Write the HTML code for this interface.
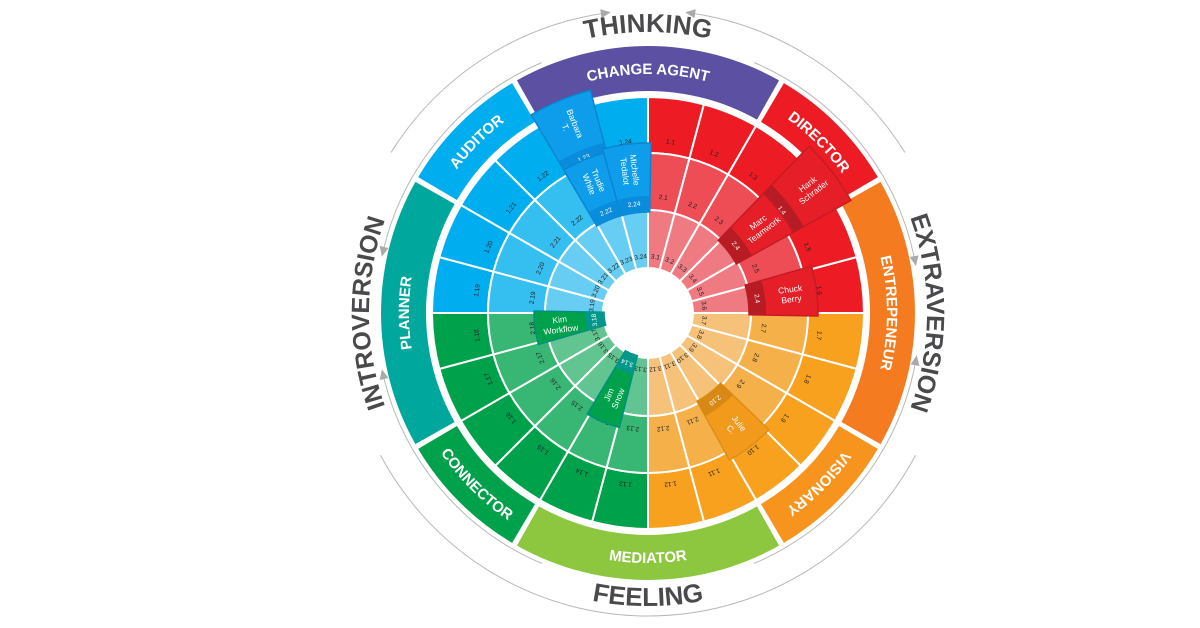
<!DOCTYPE html>
<html><head><meta charset="utf-8">
<style>
html,body{margin:0;padding:0;background:#fff;}
svg{display:block;}
.big{font-family:"Liberation Sans",sans-serif;font-weight:bold;font-size:26px;fill:#4a4a4c;}
.big2{font-family:"Liberation Sans",sans-serif;font-weight:bold;font-size:25px;fill:#4a4a4c;}
.role{font-family:"Liberation Sans",sans-serif;font-weight:bold;font-size:15px;fill:#fff;}
</style></head>
<body>
<svg id="s" width="1200" height="628" viewBox="0 0 1200 628" xmlns="http://www.w3.org/2000/svg">
<defs id="d"></defs>
<g id="g"></g>
<text class="big"><textPath href="#tThinking" startOffset="50%" text-anchor="middle">THINKING</textPath></text>
<text class="big"><textPath href="#tFeeling" startOffset="50%" text-anchor="middle">FEELING</textPath></text>
<text class="big2"><textPath href="#tExtra" startOffset="50%" text-anchor="middle">EXTRAVERSION</textPath></text>
<text class="big2"><textPath href="#tIntro" startOffset="50%" text-anchor="middle">INTROVERSION</textPath></text>
<text class="role"><textPath href="#rChange" startOffset="50%" text-anchor="middle">CHANGE AGENT</textPath></text>
<text class="role"><textPath href="#rDirector" startOffset="50%" text-anchor="middle">DIRECTOR</textPath></text>
<text class="role"><textPath href="#rEntre" startOffset="50%" text-anchor="middle">ENTREPENEUR</textPath></text>
<text class="role"><textPath href="#rVision" startOffset="50%" text-anchor="middle">VISIONARY</textPath></text>
<text class="role"><textPath href="#rMediator" startOffset="50%" text-anchor="middle">MEDIATOR</textPath></text>
<text class="role"><textPath href="#rConnector" startOffset="50%" text-anchor="middle">CONNECTOR</textPath></text>
<text class="role"><textPath href="#rPlanner" startOffset="50%" text-anchor="middle">PLANNER</textPath></text>
<text class="role"><textPath href="#rAuditor" startOffset="50%" text-anchor="middle">AUDITOR</textPath></text>
</svg>
<script>
var NS="http://www.w3.org/2000/svg",cx=648,cy=313;
var g=document.getElementById('g'),d=document.getElementById('d');
function P(r,a){a=a*Math.PI/180;return [cx+r*Math.sin(a),cy-r*Math.cos(a)];}
function f(n){return n.toFixed(2);}
function sector(r0,r1,a0,a1){var p1=P(r1,a0),p2=P(r1,a1),p3=P(r0,a1),p4=P(r0,a0);var l=(a1-a0)>180?1:0;
return 'M'+f(p1[0])+' '+f(p1[1])+'A'+r1+' '+r1+' 0 '+l+' 1 '+f(p2[0])+' '+f(p2[1])+'L'+f(p3[0])+' '+f(p3[1])+'A'+r0+' '+r0+' 0 '+l+' 0 '+f(p4[0])+' '+f(p4[1])+'Z';}
function arc(r,a0,a1,cw){var p1=P(r,cw?a0:a1),p2=P(r,cw?a1:a0);return 'M'+f(p1[0])+' '+f(p1[1])+'A'+r+' '+r+' 0 0 '+(cw?1:0)+' '+f(p2[0])+' '+f(p2[1]);}
function el(t,at,par){var e=document.createElementNS(NS,t);for(var k in at)e.setAttribute(k,at[k]);(par||g).appendChild(e);return e;}
function txt(x,y,rot,s,size,fill,parent){var e=el('text',{x:f(x),y:f(y),transform:'rotate('+f(rot)+' '+f(x)+' '+f(y)+')','font-family':'Liberation Sans, sans-serif','font-size':size,fill:fill,'text-anchor':'middle','dominant-baseline':'central'},parent);e.textContent=s;return e;}
var L1="1.1,1.2,1.3,1.4,1.5,1.6,1.7,1.8,1.9,1.10,1.11,1.12,1.13,1.14,1.15,1.16,1.17,1.18,1.19,1.20,1.21,1.22,1.23,1.24".split(',');
var L2="2.1,2.2,2.3,2.4,2.5,2.6,2.7,2.8,2.9,2.10,2.11,2.12,2.13,2.14,2.15,2.16,2.17,2.18,2.19,2.20,2.21,2.22,2.23,2.24".split(',');
var L3="3.1,3.2,3.3,3.4,3.5,3.6,3.7,3.8,3.9,3.10,3.11,3.12,3.13,3.14,3.15,3.16,3.17,3.18,3.19,3.20,3.21,3.22,3.23,3.24".split(',');
var rings=[[160,216,['#ED1C24','#F7A11F','#00A14B','#00AEEF'],L1,172],[103,160,['#EF4D56','#F5B04A','#38B673','#35BEF0'],L2,116],[45,103,['#F07A82','#F6C178','#62C490','#67CDF3'],L3,56]];
rings.forEach(function(R){for(var i=0;i<24;i++){var q=Math.floor(i/6);el('path',{d:sector(R[0],R[1],i*15,i*15+15),fill:R[2][q],stroke:'#fff','stroke-width':2});}});
rings.forEach(function(R){for(var i=0;i<24;i++){var a=i*15+7.5,p=P(R[4],a);txt(p[0],p[1],a,R[3][i],6.5,'#222');}});
el('circle',{cx:cx,cy:cy,r:45,fill:'#fff'});
var roles=[['rChange',330,390,'#5C50A2',1],['rDirector',30,60,'#ED1C24',1],['rEntre',60,120,'#F47B20',1],['rVision',120,150,'#F7941D',1],['rMediator',150,210,'#8DC63F',0],['rConnector',210,240,'#00A14B',0],['rPlanner',240,300,'#00A79D',1],['rAuditor',300,330,'#00AEEF',1]];
roles.forEach(function(r){el('path',{d:sector(222,267,r[1]+0.6,r[2]-0.6),fill:r[3]});el('path',{id:r[0],d:arc(r[4]?239:250,r[1]-10,r[2]+10,r[4]),fill:'none'},d);});
el('path',{id:'tThinking',d:arc(281,-40,40,1),fill:'none'},d);
el('path',{id:'tFeeling',d:arc(293,140,220,0),fill:'none'},d);
el('path',{id:'tExtra',d:arc(279,40,140,1),fill:'none'},d);
el('path',{id:'tIntro',d:arc(279,220,320,1),fill:'none'},d);
var gs='#b8b8b8';
function arrowArc(r,a0,a1,head){el('path',{d:arc(r,Math.min(a0,a1),Math.max(a0,a1),1),fill:'none',stroke:gs,'stroke-width':1});
 if(head){var dir=a1>a0?1:-1,a=a1*Math.PI/180,t=[Math.cos(a)*dir,Math.sin(a)*dir],n=[Math.sin(a),-Math.cos(a)],p=P(r,a1);
 var tip=[p[0]+t[0]*5,p[1]+t[1]*5],b=[p[0]-t[0]*5,p[1]-t[1]*5];
 el('path',{d:'M'+f(tip[0])+' '+f(tip[1])+'L'+f(b[0]+n[0]*4.5)+' '+f(b[1]+n[1]*4.5)+'L'+f(b[0]-n[0]*4.5)+' '+f(b[1]-n[1]*4.5)+'Z',fill:'#aaa'});}}
arrowArc(303,-58,-8,1);arrowArc(303,58,8,1);arrowArc(303,118,242,0);
arrowArc(272,23,79,1);arrowArc(272,157,100,1);arrowArc(272,203,257,1);arrowArc(272,337,283,1);
var cards=[
[158,230,176,329.5,345.5,'#0E9DEB','#0A8CDC','#0A84D0',['Barbara','T.'],'1.23'],
[101,166,117,329.5,345.5,'#0E9DEB','#0A8CDC','#0A84D0',['Trudie','White'],'2.22'],
[101,170,117,344.5,361,'#0E9DEB','#0A8CDC','#0A84D0',['Michelle','Tedalot'],'2.24'],
[158,232,178,44,61,'#E61E27','#B71C25','#C41C24',['Hank','Schrader'],'1.4'],
[101,166,119,44,61,'#E61E27','#B71C25','#C41C24',['Marc','Teamwork'],'2.4'],
[101,170,118,74,91,'#E61E27','#B71C25','#C41C24',['Chuck','Berry'],'2.4'],
[101,168,118,134,151,'#F29A1C','#D88914','#DE8E18',['Julie','C.'],'2.10'],
[44,118,63,194,211,'#00A14B','#00988A','#00907F',['Jim','Snow'],'3.14'],
[44,114,63,254,271,'#00A14B','#00988A','#00907F',['Kim','Workflow'],'3.18']];
cards.forEach(function(c){el('path',{d:sector(c[0],c[1],c[3],c[4]),fill:c[5],stroke:c[7],'stroke-width':1.5});
 el('path',{d:sector(c[0],c[2],c[3],c[4]),fill:c[6]});
 var a=(c[3]+c[4])/2,pb=P((c[0]+c[2])/2,a);txt(pb[0],pb[1],a,c[9],6.5,'#fff');
 var rm=(c[2]+c[1])/2,rot=(a%360)<180?a-90:a+90,p=P(rm,a);
 var rr=rot*Math.PI/180,nx=-Math.sin(rr),ny=Math.cos(rr);
 txt(p[0]-nx*5,p[1]-ny*5,rot,c[8][0],8.5,'#fff');txt(p[0]+nx*5,p[1]+ny*5,rot,c[8][1],8.5,'#fff');});
</script>
</body></html>
